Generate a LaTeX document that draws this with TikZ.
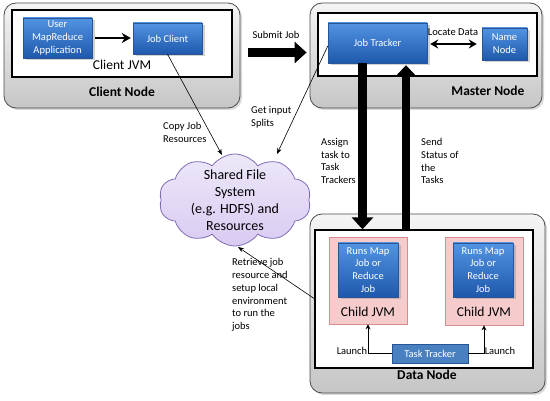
\documentclass[tikz,border=0pt]{standalone}
\usepackage{fontspec}
\setmainfont{Carlito}
\usetikzlibrary{arrows.meta,shapes.symbols,shadows}
\definecolor{boxtop}{RGB}{82,148,226}
\definecolor{boxbot}{RGB}{30,88,172}
\definecolor{boxline}{RGB}{40,85,150}
\definecolor{ttfill}{RGB}{72,128,192}
\definecolor{jvmpink}{RGB}{246,203,203}
\definecolor{jvmline}{RGB}{214,140,140}
\definecolor{cloudfill}{RGB}{217,203,242}
\definecolor{cloudline}{RGB}{128,108,178}
\def\smallfont{\fontsize{10.5}{12.8}\selectfont}
\def\bigfont{\fontsize{13.5}{16.5}\selectfont}
\tikzset{
  hostbox/.style={draw=gray!60!black, line width=0.8pt, rounded corners=12pt, top color=gray!8, bottom color=gray!45,
    drop shadow={opacity=0.3,shadow xshift=2pt,shadow yshift=-2pt}},
  jvmbox/.style={draw=black, line width=1.3pt, fill=white},
  taskbox/.style={draw=boxline, top color=boxtop, bottom color=boxbot, text=white, font=\smallfont, align=center,
    inner sep=0pt, drop shadow={opacity=0.35,shadow xshift=2.5pt,shadow yshift=-2.5pt}},
  ttbox/.style={draw=boxline, fill=ttfill, text=white, font=\smallfont, inner sep=0pt},
  childbox/.style={draw=jvmline, fill=jvmpink, line width=0.6pt},
  lbl/.style={font=\smallfont, align=left, inner sep=0pt},
  hostlbl/.style={font=\bigfont\bfseries, inner sep=0pt},
  jvmlbl/.style={font=\bigfont, inner sep=0pt},
  bigarrow/.style={line width=9pt, -{Triangle[length=12pt,width=21pt]}},
  thinarrow/.style={line width=0.6pt, -{Stealth[length=6pt,width=4.5pt]}},
  launcharrow/.style={line width=1pt, -{Stealth[length=5pt,width=5pt]}},
}
\begin{document}
\begin{tikzpicture}[x=1pt,y=-1pt]
  \useasboundingbox (0,0) rectangle (550,401);
  \node[hostbox, minimum width=236pt, minimum height=105pt] (clientnode) at (122,55.5) {};
  \node[jvmbox, minimum width=220pt, minimum height=67pt] (clientjvm) at (122,43.5) {};
  \node[taskbox, minimum width=69pt, minimum height=40pt] (userapp) at (57.5,38) {User\\MapReduce\\Application};
  \node[taskbox, minimum width=69pt, minimum height=31pt] (jobclient) at (167.5,38.5) {Job Client};
  \node[jvmlbl] (clientjvmlbl) at (122,65) {Client JVM};
  \node[hostlbl] (clientnodelbl) at (122,92) {Client Node};

  \node[hostbox, minimum width=232pt, minimum height=105pt] (masternode) at (426,55.5) {};
  \node[jvmbox, minimum width=219pt, minimum height=63pt] (masterjvm) at (427.5,44.5) {};
  \node[taskbox, minimum width=99pt, minimum height=40pt] (jobtracker) at (377.5,43) {Job Tracker};
  \node[taskbox, minimum width=45pt, minimum height=32pt] (namenode) at (504.5,44) {Name\\Node};
  \node[lbl] (locatelbl) at (453,32) {Locate Data};
  \node[hostlbl] (masternodelbl) at (488,91) {Master Node};

  \node[hostbox, minimum width=235pt, minimum height=179pt] (datanode) at (427.5,303.5) {};
  \node[jvmbox, minimum width=218pt, minimum height=138pt] (datajvm) at (424,299) {};
  \node[childbox, minimum width=78pt, minimum height=87pt] (childa) at (368,280.5) {};
  \node[childbox, minimum width=78pt, minimum height=88pt] (childb) at (484,281) {};
  \node[taskbox, minimum width=60pt, minimum height=54pt] (runa) at (368,270) {Runs Map\\Job or\\Reduce\\Job};
  \node[taskbox, minimum width=60pt, minimum height=54pt] (runb) at (483,270) {Runs Map\\Job or\\Reduce\\Job};
  \node[jvmlbl] (childalbl) at (368,312) {Child JVM};
  \node[jvmlbl] (childblbl) at (484,312) {Child JVM};
  \node[ttbox, minimum width=76pt, minimum height=19pt] (tasktracker) at (430,353.5) {Task Tracker};
  \node[hostlbl] (datanodelbl) at (427,375) {Data Node};

  \node[cloud, cloud puffs=10, cloud puff arc=110, cloud ignores aspect, minimum width=152pt, minimum height=92pt,
    draw=cloudline, line width=0.8pt, top color=cloudfill!45!white, bottom color=cloudfill] (hdfs) at (235,200) {};
  \node[font=\fontsize{14}{17}\selectfont, align=center, inner sep=0pt] (hdfslbl) at (hdfs) {Shared File\\System\\(e.g. HDFS) and\\Resources};

  \draw[line width=2.2pt, -{Stealth[length=9pt,width=10pt]}] ([xshift=3pt]userapp.east) -- ([xshift=-2pt]jobclient.west |- userapp.east);
  \draw[bigarrow] ([xshift=8pt,yshift=3pt]clientnode.east) -- ([xshift=-3pt,yshift=3pt]masternode.west);
  \draw[line width=1.8pt, {Stealth[length=8pt,width=9pt]}-{Stealth[length=8pt,width=9pt]}] ([xshift=3pt]jobtracker.east |- namenode.west) -- ([xshift=-5pt]namenode.west);
  \draw[thinarrow] (jobclient.south) -- ([xshift=-13pt,yshift=45pt]hdfs.center);
  \draw[thinarrow] ([yshift=-3pt]jobtracker.west) -- ([xshift=42pt,yshift=46pt]hdfs.center);
  \draw[thinarrow] ([xshift=6pt,yshift=4pt]datanode.west) -- ([xshift=3pt,yshift=-47pt]hdfs.center);
  \draw[bigarrow] ([xshift=-15pt]jobtracker.south) -- ([xshift=-15pt]jobtracker.south |- datajvm.north);
  \draw[line width=8pt, -{Triangle[length=11pt,width=20pt]}] ([xshift=28.5pt]jobtracker.south |- datajvm.north) -- ([xshift=28.5pt,yshift=-2pt]jobtracker.south);
  \draw[launcharrow] (tasktracker.west) -| (childa.south);
  \draw[launcharrow] (tasktracker.east) -| (childb.south);

  \node[lbl] (submitlbl) at (276,35) {Submit Job};
  \node[lbl, anchor=west] (copylbl) at (163,132) {Copy Job\\Resources};
  \node[lbl, anchor=west] (splitlbl) at (251,117) {Get input\\Splits};
  \node[lbl, anchor=west] (assignlbl) at (321,161) {Assign\\task to\\Task\\Trackers};
  \node[lbl, anchor=west] (statuslbl) at (421,161) {Send\\Status of\\the\\Tasks};
  \node[lbl, anchor=west] (retrievelbl) at (232,295) {Retrieve job\\resource and\\setup local\\environment\\to run the\\jobs};
  \node[lbl] (launchalbl) at (352,351) {Launch};
  \node[lbl] (launchblbl) at (500,351) {Launch};
\end{tikzpicture}
\end{document}
